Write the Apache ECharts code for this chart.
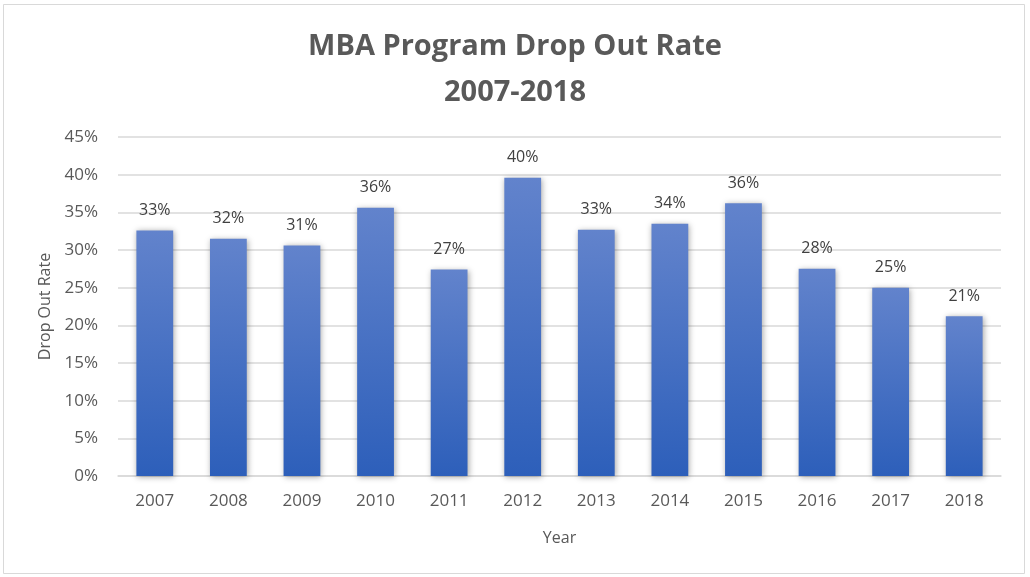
<!DOCTYPE html>
<html>
<head>
<meta charset="utf-8">
<script src="https://cdn.jsdelivr.net/npm/echarts@6/dist/echarts.min.js"></script>
<style>
  html, body { margin: 0; padding: 0; background: #fff; }
  #chart { width: 1030px; height: 577px; }
</style>
</head>
<body>
<div id="chart"></div>
<script>
// data
const years = ['2007', '2008', '2009', '2010', '2011', '2012', '2013', '2014', '2015', '2016', '2017', '2018']
const dropOutRate = [32.6, 31.5, 30.6, 35.6, 27.4, 39.6, 32.7, 33.5, 36.2, 27.5, 25.0, 21.2]
const yTicks = { min: 0, max: 45, interval: 5 }

let chart = echarts.init(document.getElementById('chart'))
let option = {
  backgroundColor: '#fff',
  graphic: [{
    type: 'rect',
    shape: { x: 3.5, y: 4.5, width: 1021, height: 569 },
    style: { fill: 'none', stroke: '#d9d9d9', lineWidth: 1 },
    silent: true
  }],
  title: {
    text: 'MBA Program Drop Out Rate\n2007-2018',
    left: 'center',
    top: 19,
    textStyle: {
      fontFamily: 'Open Sans',
      fontSize: 29,
      fontWeight: 'bold',
      color: '#595959',
      lineHeight: 46
    }
  },
  grid: {
    left: 118,
    right: 29,
    top: 137,
    bottom: 101,
    containLabel: false
  },
  xAxis: {
    type: 'category',
    data: years,
    name: 'Year',
    nameLocation: 'middle',
    nameGap: 54,
    nameTextStyle: { fontFamily: 'Open Sans', fontSize: 16, color: '#595959' },
    axisLine: { lineStyle: { color: '#d9d9d9', width: 1.5 } },
    axisTick: { show: false },
    axisLabel: { fontFamily: 'Open Sans', fontSize: 17, color: '#595959', margin: 17 }
  },
  yAxis: {
    type: 'value',
    min: yTicks.min,
    max: yTicks.max,
    interval: yTicks.interval,
    name: 'Drop Out Rate',
    nameLocation: 'middle',
    nameGap: 62,
    nameTextStyle: { fontFamily: 'Open Sans', fontSize: 16, color: '#595959' },
    axisLine: { show: false },
    axisTick: { show: false },
    axisLabel: {
      fontFamily: 'Open Sans',
      fontSize: 17,
      color: '#595959',
      margin: 20,
      formatter: '{value}%'
    },
    splitLine: { lineStyle: { color: '#d9d9d9', width: 1.5 } }
  },
  series: [{
    name: 'Drop Out Rate',
    type: 'bar',
    data: dropOutRate,
    barWidth: '50%',
    itemStyle: {
      color: new echarts.graphic.LinearGradient(0, 0, 0, 1, [
        { offset: 0, color: '#6283cc' },
        { offset: 1, color: '#2d5fba' }
      ]),
      shadowBlur: 6,
      shadowColor: 'rgba(0,0,0,0.35)',
      shadowOffsetX: 1,
      shadowOffsetY: 1
    },
    label: {
      show: true,
      position: 'top',
      distance: 12,
      fontFamily: 'Open Sans',
      fontSize: 16,
      color: '#404040',
      formatter: p => Math.round(p.value) + '%'
    }
  }]
}
chart.setOption(option)
</script>
</body>
</html>
